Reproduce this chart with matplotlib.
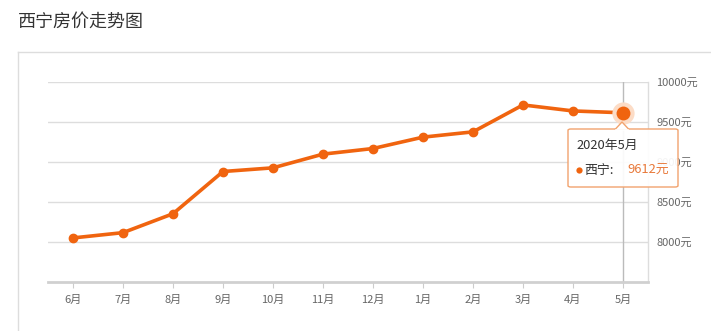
import matplotlib
matplotlib.use("Agg")
import matplotlib.pyplot as plt
from matplotlib.patches import Polygon, FancyBboxPatch
from matplotlib.lines import Line2D

plt.rcParams['font.family'] = ['Noto Sans CJK SC', 'DejaVu Sans']

title = "西宁房价走势图"
months = ["6月", "7月", "8月", "9月", "10月", "11月", "12月", "1月", "2月", "3月", "4月", "5月"]
prices = [8050, 8116, 8352, 8879, 8925, 9096, 9166, 9308, 9374, 9710, 9635, 9612]
yticks = [8000, 8500, 9000, 9500, 10000]
ytick_labels = ["8000元", "8500元", "9000元", "9500元", "10000元"]
tip_title = "2020年5月"
tip_series = "西宁:"
tip_value = "9612元"

W, H = 711, 331
fig = plt.figure(figsize=(W / 100, H / 100), dpi=100)
fig.patch.set_facecolor("white")

def fx(px):
    return px / W

def fy(py):
    return 1 - py / H

# card border
fig.add_artist(Line2D([fx(18), fx(18)], [fy(52), fy(331)], color="#dddddd", lw=1))
fig.add_artist(Line2D([fx(18), fx(711)], [fy(52), fy(52)], color="#dddddd", lw=1))

fig.text(fx(18), fy(22), title, fontsize=13, color="#333333", va="center", ha="left")

orange = "#f0640f"
ax_left, ax_right = 48, 648
ax_top, ax_bottom = 81.7, 282
ax = fig.add_axes([fx(ax_left), fy(ax_bottom), (ax_right - ax_left) / W, (ax_bottom - ax_top) / H])
ax.set_xlim(-0.5, len(months) - 0.5)
ax.set_ylim(7500, 10000)
ax.set_facecolor("none")

for s in ["top", "left"]:
    ax.spines[s].set_visible(False)
ax.spines["bottom"].set_color("#d0d0d0")
ax.spines["bottom"].set_linewidth(2)
ax.spines["right"].set_color("#dddddd")
ax.spines["right"].set_linewidth(1)

ax.set_yticks(yticks)
ax.set_yticklabels(ytick_labels)
ax.yaxis.tick_right()
ax.tick_params(axis="y", length=0, pad=6, labelsize=8, labelcolor="#666666")
ax.set_xticks(range(len(months)))
ax.set_xticklabels(months)
ax.tick_params(axis="x", length=4, color="#cccccc", pad=5, labelsize=8, labelcolor="#666666")
ax.grid(axis="y", color="#dddddd", lw=1)
ax.set_axisbelow(True)

# cursor line at last point
ax.axvline(len(months) - 1, color="#bbbbbb", lw=1, zorder=1)

ax.plot(range(len(months)), prices, color=orange, lw=2.6, marker="o", ms=6,
        markerfacecolor=orange, markeredgecolor=orange, zorder=3, solid_joinstyle="round")
# highlighted last point
ax.plot([len(months) - 1], [prices[-1]], marker="o", ms=16, color="#fcdcc6", zorder=4, mew=0)
ax.plot([len(months) - 1], [prices[-1]], marker="o", ms=10, color=orange, zorder=5, mew=0)

# tooltip
bx0, bx1, by0, by1 = 568, 678, 129, 187
tip = FancyBboxPatch((fx(bx0), fy(by1)), (bx1 - bx0) / W, (by1 - by0) / H,
                     boxstyle="round,pad=0,rounding_size=0.004", transform=fig.transFigure,
                     facecolor=(1, 1, 1, 0.93), edgecolor="#f2a36e", lw=1, zorder=10)
fig.add_artist(tip)
arrow = Polygon([[fx(615), fy(129.5)], [fx(622), fy(122)], [fx(629), fy(129.5)]],
                closed=False, transform=fig.transFigure, facecolor="white",
                edgecolor="#f2a36e", lw=1, zorder=11)
fig.add_artist(arrow)
fig.add_artist(Line2D([fx(615.6), fx(628.4)], [fy(129.6), fy(129.6)], color="white", lw=1.2, zorder=12))
fig.text(fx(576), fy(145), tip_title, fontsize=9.3, color="#333333", va="center", ha="left", zorder=13)
fig.add_artist(Line2D([fx(578.5)], [fy(170)], marker="o", ms=4.5, color=orange, mew=0, zorder=13))
fig.text(fx(584), fy(170), tip_series, fontsize=9.3, color="#333333", va="center", ha="left", zorder=13)
fig.text(fx(627), fy(170), tip_value, fontsize=9.3, color="#e8793a", va="center", ha="left", zorder=13)

fig.savefig("out.png", dpi=100, facecolor="white")
